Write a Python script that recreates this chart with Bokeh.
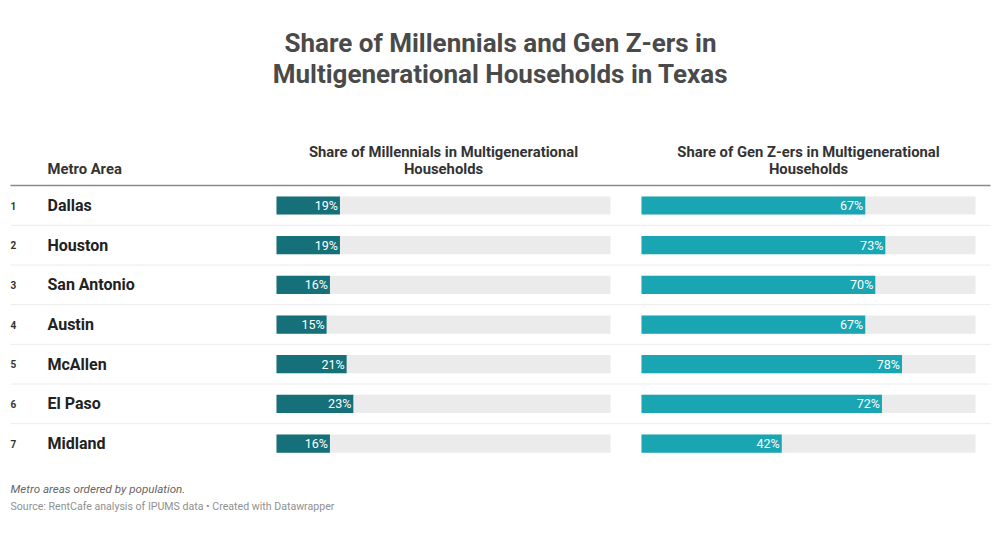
from bokeh.plotting import figure
from bokeh.models import Range1d, ColumnDataSource
from bokeh.core.properties import value
from bokeh.embed import file_html
from bokeh.resources import INLINE

# --- data -------------------------------------------------------------
ranks = [1, 2, 3, 4, 5, 6, 7]
metros = ["Dallas", "Houston", "San Antonio", "Austin", "McAllen", "El Paso", "Midland"]
millennials = [19, 19, 16, 15, 21, 23, 16]
gen_z = [67, 73, 70, 67, 78, 72, 42]

title_lines = ["Share of Millennials and Gen Z-ers in", "Multigenerational Households in Texas"]
col_metro = "Metro Area"
col_mill = ["Share of Millennials in Multigenerational", "Households"]
col_genz = ["Share of Gen Z-ers in Multigenerational", "Households"]
note = "Metro areas ordered by population."
source_txt = "Source: RentCafe analysis of IPUMS data \u2022 Created with Datawrapper"

W, H = 1000, 538
FONT = value("Roboto")

DARK_TEAL = "#15707a"
LIGHT_TEAL = "#1aa5b3"
TRACK = "#ebebeb"

# page coordinates (pixels from top-left) for free text and rules
p = figure(width=W, height=H, x_range=Range1d(0, W), y_range=Range1d(H, 0),
           output_backend="svg", toolbar_location=None, min_border=0,
           background_fill_color="white", border_fill_color="white")
p.axis.visible = False
p.grid.visible = False
p.outline_line_color = None

# row scale: row 1 centred at 205 px, 39.67 px per row
row_px = 39.67
row_top = 1 - 205 / row_px
row_bottom = row_top + H / row_px
p.extra_y_ranges = {"rows": Range1d(start=row_bottom, end=row_top)}

# percentage scales for the two bar columns (0..100 spans 334 px)
px_per_pct = 3.34
def pct_range(left_px):
    start = -left_px / px_per_pct
    return Range1d(start=start, end=start + W / px_per_pct)

p.extra_x_ranges = {"mill": pct_range(276), "genz": pct_range(641)}

src = ColumnDataSource(dict(rank=ranks, metro=metros, mill=millennials, genz=gen_z,
                            mill_lbl=[f"{v}%" for v in millennials],
                            genz_lbl=[f"{v}%" for v in gen_z],
                            full=[100] * len(ranks), zero=[0] * len(ranks)))

# row separators
p.segment(x0=10, x1=990, y0="sep", y1="sep",
          source=ColumnDataSource(dict(sep=[r + 0.5 for r in ranks[:-1]])),
          y_range_name="rows", line_color="#ececec", line_width=1)

bar_h = 0.46
for rng, col, lbl, color in (("mill", "mill", "mill_lbl", DARK_TEAL),
                             ("genz", "genz", "genz_lbl", LIGHT_TEAL)):
    p.hbar(y="rank", left="zero", right="full", height=bar_h, source=src,
           x_range_name=rng, y_range_name="rows", fill_color=TRACK, line_color=None)
    p.hbar(y="rank", left="zero", right=col, height=bar_h, source=src,
           x_range_name=rng, y_range_name="rows", fill_color=color, line_color=None)
    p.text(x=col, y="rank", text=lbl, source=src, x_range_name=rng, y_range_name="rows",
           text_align="right", text_baseline="middle", x_offset=-2,
           text_color="white", text_font=FONT, text_font_size="12.5px")

# rank numbers and metro names
p.text(x=10, y="rank", text="rank", source=src, y_range_name="rows",
       text_align="left", text_baseline="middle", text_color="#333333",
       text_font=FONT, text_font_size="10px", text_font_style="bold")
p.text(x=47, y="rank", text="metro", source=src, y_range_name="rows",
       text_align="left", text_baseline="middle", text_color="#222222",
       text_font=FONT, text_font_size="16px", text_font_style="bold")

# title
p.text(x=[500, 500], y=[42, 73], text=title_lines, text_align="center", text_baseline="middle",
       text_color="#4a4a4a", text_font=FONT, text_font_size="26px", text_font_style="bold")

# column headers
p.text(x=[47], y=[168], text=[col_metro], text_align="left", text_baseline="middle",
       text_color="#333333", text_font=FONT, text_font_size="14.8px", text_font_style="bold")
p.text(x=[443, 443], y=[151, 168], text=col_mill, text_align="center", text_baseline="middle",
       text_color="#333333", text_font=FONT, text_font_size="14.8px", text_font_style="bold")
p.text(x=[808, 808], y=[151, 168], text=col_genz, text_align="center", text_baseline="middle",
       text_color="#333333", text_font=FONT, text_font_size="14.8px", text_font_style="bold")

# header rule
p.segment(x0=[10], x1=[990], y0=[185], y1=[185], line_color="#8a8a8a", line_width=1.5)

# notes
p.text(x=[10], y=[488], text=[note], text_align="left", text_baseline="middle",
       text_color="#666666", text_font=FONT, text_font_size="11.6px", text_font_style="italic")
p.text(x=[10], y=[506], text=[source_txt], text_align="left", text_baseline="middle",
       text_color="#909090", text_font=FONT, text_font_size="10.6px")

open("out.html", "w").write(file_html(p, INLINE))
